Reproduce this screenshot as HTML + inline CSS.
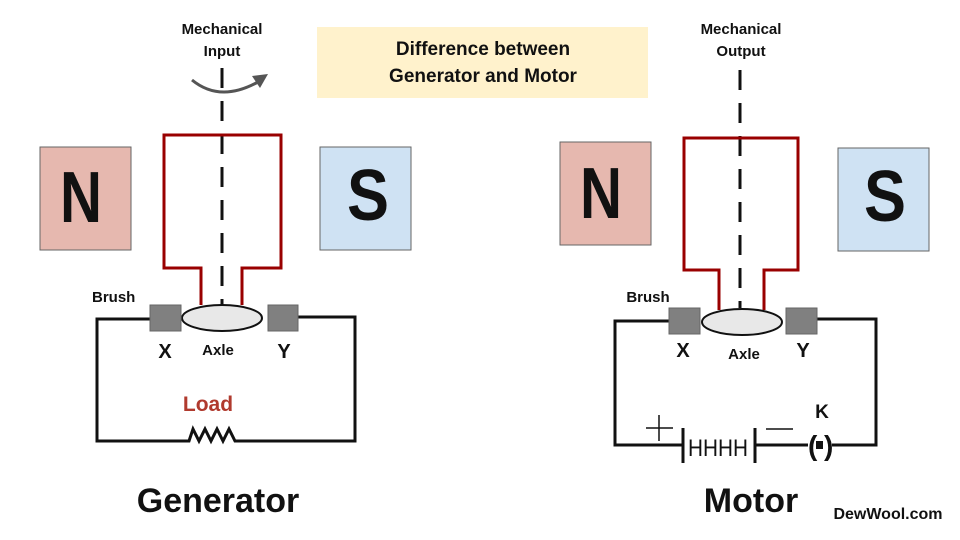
<!DOCTYPE html>
<html><head><meta charset="utf-8"><style>
html,body{margin:0;padding:0;background:#fff;}
svg{display:block;}
text{font-family:"Liberation Sans",sans-serif;font-weight:bold;fill:#111;}
</style></head><body>
<svg width="960" height="540" viewBox="0 0 960 540" xmlns="http://www.w3.org/2000/svg">
<rect x="317" y="27" width="331" height="71" fill="#fff2cc"/>
<text x="483" y="55" font-size="19" text-anchor="middle">Difference between</text>
<text x="483" y="82" font-size="19" text-anchor="middle">Generator and Motor</text>

<!-- Generator -->
<rect x="40" y="147" width="91" height="103" fill="#e6b8af" stroke="#666" stroke-width="1"/>
<text x="60" y="222" font-size="72" textLength="42" lengthAdjust="spacingAndGlyphs">N</text>
<rect x="320" y="147" width="91" height="103" fill="#cfe2f3" stroke="#666" stroke-width="1"/>
<text x="347" y="220" font-size="72" textLength="42" lengthAdjust="spacingAndGlyphs">S</text>
<text x="222" y="34" font-size="15" text-anchor="middle">Mechanical</text>
<text x="222" y="56" font-size="15" text-anchor="middle">Input</text>
<line x1="222" y1="68" x2="222" y2="305" stroke="#111" stroke-width="3" stroke-dasharray="20,13"/>
<path d="M192,80 Q220,103 258,82" fill="none" stroke="#555" stroke-width="3"/>
<polygon points="268,74 252,76 260,88" fill="#555"/>
<path d="M201,305 V268 H164 V135 H281 V268 H242 V305" fill="none" stroke="#990000" stroke-width="3"/>
<path d="M150,319 H97 V441 H189 L193,429 L199,441 L205,429 L211,441 L217,429 L223,441 L229,429 L235,441 H355 V317 H298" fill="none" stroke="#111" stroke-width="3"/>
<ellipse cx="222" cy="318" rx="40" ry="13" fill="#e8e8e8" stroke="#111" stroke-width="2"/>
<rect x="150" y="305" width="31" height="26" fill="#808080" stroke="#666"/>
<rect x="268" y="305" width="30" height="26" fill="#808080" stroke="#666"/>
<text x="92" y="302" font-size="15">Brush</text>
<text x="165" y="358" font-size="20" text-anchor="middle">X</text>
<text x="218" y="355" font-size="15" text-anchor="middle">Axle</text>
<text x="284" y="358" font-size="20" text-anchor="middle">Y</text>
<text x="208" y="411" font-size="21" text-anchor="middle" style="fill:#b03a2e">Load</text>
<text x="218" y="512" font-size="34" text-anchor="middle">Generator</text>

<!-- Motor -->
<rect x="560" y="142" width="91" height="103" fill="#e6b8af" stroke="#666" stroke-width="1"/>
<text x="580" y="218" font-size="72" textLength="42" lengthAdjust="spacingAndGlyphs">N</text>
<rect x="838" y="148" width="91" height="103" fill="#cfe2f3" stroke="#666" stroke-width="1"/>
<text x="864" y="221" font-size="72" textLength="42" lengthAdjust="spacingAndGlyphs">S</text>
<text x="741" y="34" font-size="15" text-anchor="middle">Mechanical</text>
<text x="741" y="56" font-size="15" text-anchor="middle">Output</text>
<line x1="740" y1="70" x2="740" y2="308" stroke="#111" stroke-width="3" stroke-dasharray="20,13"/>
<path d="M719,310 V270 H684 V138 H798 V270 H764 V310" fill="none" stroke="#990000" stroke-width="3"/>
<path d="M669,321 H615 V445 H683 M755,445 H808 M832,445 H876 V319 H817" fill="none" stroke="#111" stroke-width="3"/>
<ellipse cx="742" cy="322" rx="40" ry="13" fill="#e8e8e8" stroke="#111" stroke-width="2"/>
<rect x="669" y="308" width="31" height="26" fill="#808080" stroke="#666"/>
<rect x="786" y="308" width="31" height="26" fill="#808080" stroke="#666"/>
<line x1="683" y1="428" x2="683" y2="463" stroke="#111" stroke-width="3"/>
<line x1="755" y1="428" x2="755" y2="463" stroke="#111" stroke-width="3"/>
<text x="688" y="456" font-size="24" textLength="60" lengthAdjust="spacingAndGlyphs" style="font-weight:normal">HHHH</text>
<line x1="646" y1="428" x2="673" y2="428" stroke="#111" stroke-width="1.5"/>
<line x1="659" y1="415" x2="659" y2="441" stroke="#111" stroke-width="1.5"/>
<line x1="766" y1="429" x2="793" y2="429" stroke="#111" stroke-width="1.5"/>
<text x="808" y="455" font-size="28">(</text>
<text x="824" y="455" font-size="28">)</text>
<rect x="816" y="441" width="7" height="8" fill="#111"/>
<text x="822" y="418" font-size="19" text-anchor="middle">K</text>
<text x="648" y="302" font-size="15" text-anchor="middle">Brush</text>
<text x="683" y="357" font-size="20" text-anchor="middle">X</text>
<text x="744" y="359" font-size="15" text-anchor="middle">Axle</text>
<text x="803" y="357" font-size="20" text-anchor="middle">Y</text>
<text x="751" y="512" font-size="34" text-anchor="middle">Motor</text>
<text x="888" y="519" font-size="16" text-anchor="middle">DewWool.com</text>
</svg>
</body></html>
